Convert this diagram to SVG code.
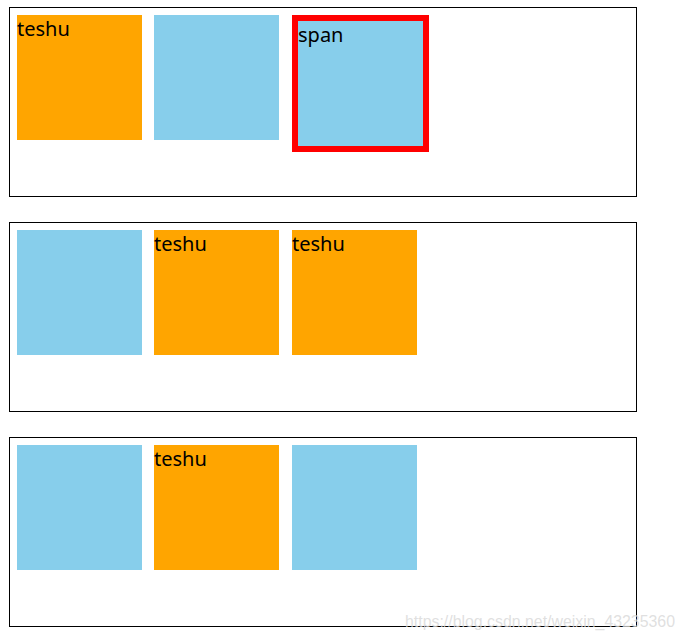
<svg xmlns="http://www.w3.org/2000/svg" width="686" height="641" viewBox="0 0 686 641">
<style>
.frame{fill:none;stroke:#000;stroke-width:1}
.o{fill:#ffa500}
.b{fill:#87ceeb}
.t{font-family:"Noto Sans","Liberation Sans",sans-serif;font-size:20px;fill:#000}
.wm{font-family:"Liberation Sans",Arial,sans-serif;font-size:16px;fill:#d8d8d8;fill-opacity:0.8}
</style>
<rect width="686" height="641" fill="#fff"/>
<g id="container1">
<rect class="frame" x="9.5" y="7.5" width="627" height="189"/>
<g id="c1-item1"><rect class="o" x="17" y="15" width="125" height="125"/><text class="t" x="17" y="36">teshu</text></g>
<g id="c1-item2"><rect class="b" x="154" y="15" width="125" height="125"/></g>
<g id="c1-span"><rect class="b" x="295" y="18" width="131" height="131" stroke="#f00" stroke-width="6"/><text class="t" x="298" y="42">span</text></g>
</g>
<g id="container2">
<rect class="frame" x="9.5" y="222.5" width="627" height="189"/>
<g id="c2-item1"><rect class="b" x="17" y="230" width="125" height="125"/></g>
<g id="c2-item2"><rect class="o" x="154" y="230" width="125" height="125"/><text class="t" x="154" y="251">teshu</text></g>
<g id="c2-item3"><rect class="o" x="292" y="230" width="125" height="125"/><text class="t" x="292" y="251">teshu</text></g>
</g>
<g id="container3">
<rect class="frame" x="9.5" y="437.5" width="627" height="189"/>
<g id="c3-item1"><rect class="b" x="17" y="445" width="125" height="125"/></g>
<g id="c3-item2"><rect class="o" x="154" y="445" width="125" height="125"/><text class="t" x="154" y="466">teshu</text></g>
<g id="c3-item3"><rect class="b" x="292" y="445" width="125" height="125"/></g>
</g>
<g id="connectors"></g>
<text class="wm" x="405" y="627" textLength="270" lengthAdjust="spacingAndGlyphs">https://blog.csdn.net/weixin_43235360</text>
</svg>
